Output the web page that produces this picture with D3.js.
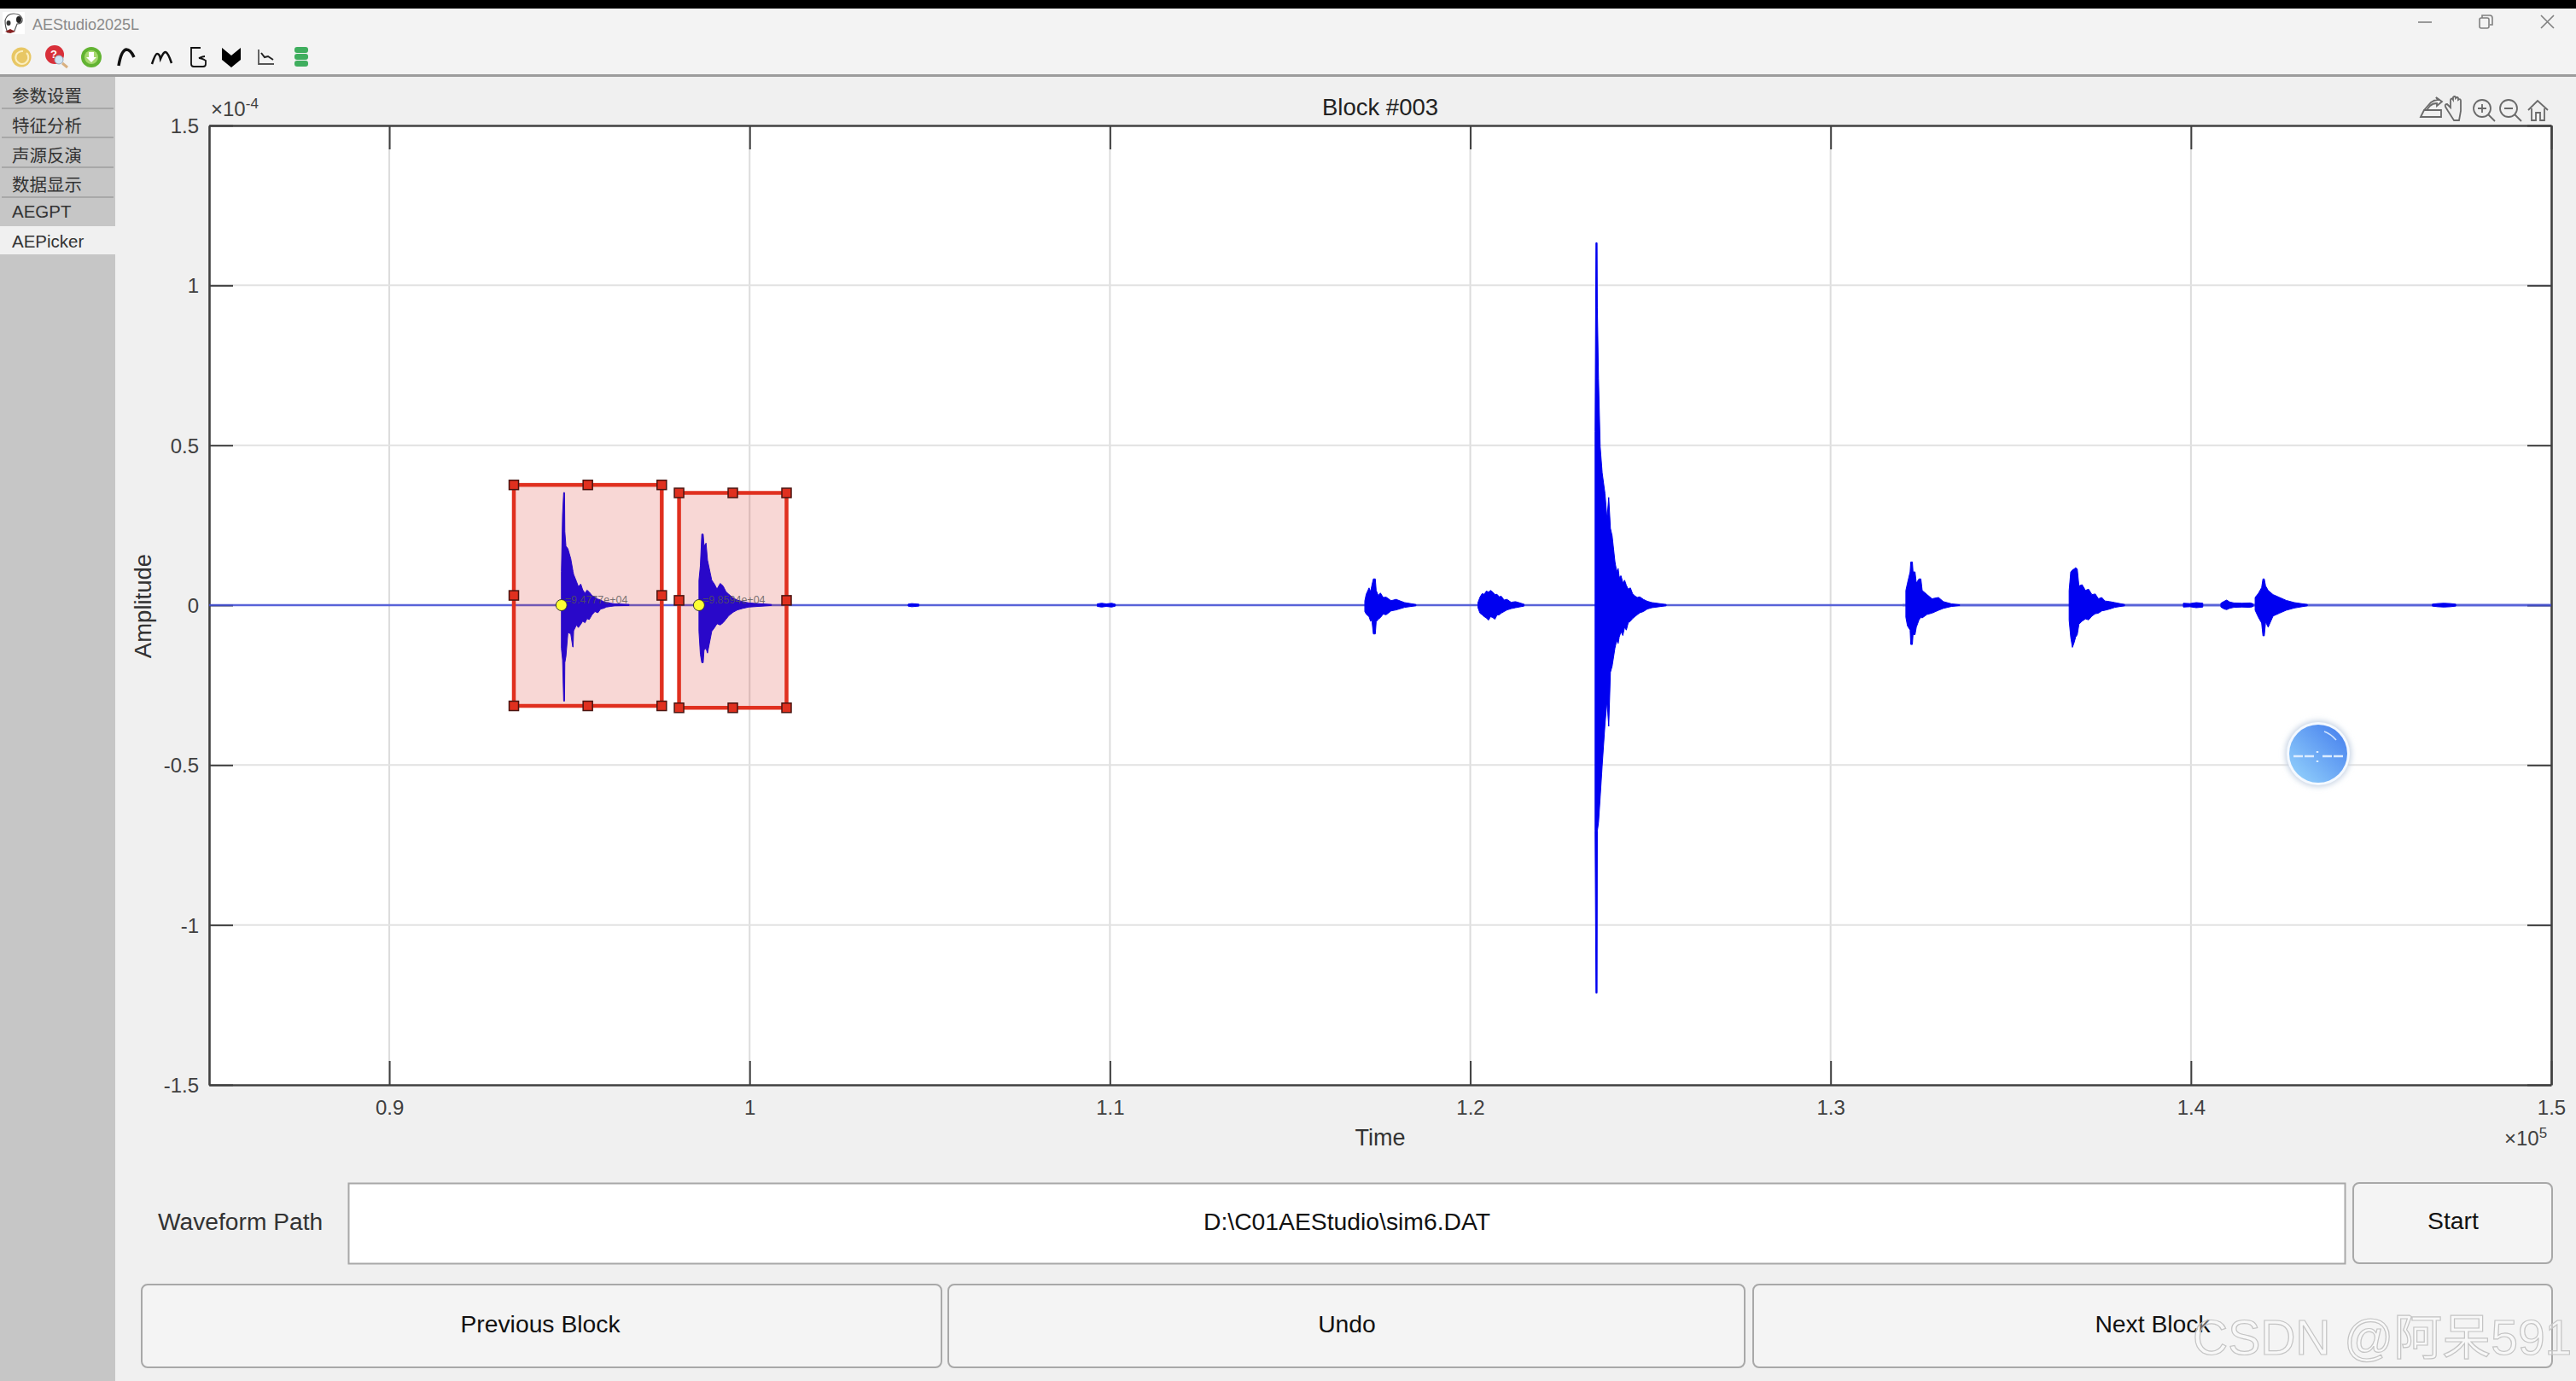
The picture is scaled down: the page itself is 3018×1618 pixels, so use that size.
<!doctype html>
<html>
<head>
  <title>AEPicker waveform</title>
  <script src="https://d3js.org/d3.v7.min.js"></script>
  <style>
    body { margin:0;background:#f0f0f0; }
    svg { display:block; }
    text { font-family:"Liberation Sans",Arial,sans-serif; }
  </style>
</head>
<body>
  <script>
    // axis values, time in samples and amplitude in units of 1e-4
    var xDomain = [85000, 150000];
    var yDomain = [-1.5, 1.5];
    var xTicks = [90000, 100000, 110000, 120000, 130000, 140000, 150000];
    var xTickLabels = ["0.9", "1", "1.1", "1.2", "1.3", "1.4", "1.5"];
    var yTicks = [-1.5, -1, -0.5, 0, 0.5, 1, 1.5];
    var yTickLabels = ["-1.5", "-1", "-0.5", "0", "0.5", "1", "1.5"];

    // background noise level along the record
    var baseTime = [85000, 102000, 117000, 124000, 132000, 140000, 150000];
    var baseAmp = [0.0035, 0.0035, 0.0035, 0.0035, 0.004, 0.004, 0.004];

    // start of every burst in the record
    var burstOnsets = [94777, 98594, 117073, 120214, 123464, 132089, 136620, 139790, 140831, 141782, 104400, 109650, 146700];

    // envelope of every burst: samples after onset, upper and lower amplitude
    var burst1Dt = [0, 32, 63, 87, 95, 126, 181, 260, 315, 323, 339, 418, 470, 537, 590, 655, 710, 773, 850, 931, 1010, 1089, 1170, 1247, 1360, 1483, 1878];
    var burst1Up = [0.105, 0.283, 0.352, 0.352, 0.23, 0.185, 0.176, 0.145, 0.11, 0.105, 0.096, 0.074, 0.058, 0.066, 0.048, 0.037, 0.047, 0.041, 0.03, 0.025, 0.019, 0.016, 0.011, 0.009, 0.006, 0.004, 0.002];
    var burst1Lo = [-0.135, -0.171, -0.3, -0.3, -0.18, -0.16, -0.085, -0.09, -0.131, -0.131, -0.08, -0.062, -0.07, -0.06, -0.05, -0.055, -0.042, -0.045, -0.03, -0.02, -0.024, -0.012, -0.01, -0.006, -0.004, -0.002, -0.001];

    var burst2Dt = [0, 39, 79, 118, 142, 197, 237, 355, 434, 500, 590, 670, 750, 828, 950, 1065, 1220, 1381, 2012];
    var burst2Up = [0.078, 0.123, 0.222, 0.222, 0.185, 0.194, 0.141, 0.078, 0.065, 0.05, 0.068, 0.06, 0.042, 0.034, 0.022, 0.016, 0.011, 0.007, 0.002];
    var burst2Lo = [-0.082, -0.153, -0.18, -0.18, -0.14, -0.135, -0.15, -0.082, -0.07, -0.058, -0.062, -0.055, -0.044, -0.033, -0.022, -0.015, -0.01, -0.006, -0.001];

    var burst3Dt = [0, 39, 118, 160, 197, 237, 292, 316, 375, 434, 510, 592, 730, 868, 1105, 1420];
    var burst3Up = [0.013, 0.034, 0.054, 0.042, 0.062, 0.082, 0.082, 0.046, 0.03, 0.038, 0.024, 0.025, 0.014, 0.018, 0.008, 0.002];
    var burst3Lo = [-0.02, -0.028, -0.036, -0.05, -0.047, -0.09, -0.09, -0.052, -0.044, -0.039, -0.028, -0.03, -0.018, -0.015, -0.007, -0.002];

    var burst4Dt = [0, 55, 115, 174, 233, 292, 350, 410, 470, 528, 590, 647, 725, 805, 920, 1041, 1278];
    var burst4Up = [0.008, 0.025, 0.036, 0.034, 0.044, 0.041, 0.046, 0.041, 0.033, 0.034, 0.026, 0.028, 0.016, 0.018, 0.009, 0.011, 0.003];
    var burst4Lo = [-0.008, -0.025, -0.03, -0.036, -0.04, -0.047, -0.036, -0.039, -0.044, -0.031, -0.03, -0.025, -0.02, -0.015, -0.011, -0.008, -0.003];

    var burst5Dt = [0, 24, 55, 63, 95, 142, 197, 276, 331, 379, 426, 473, 552, 600, 640, 670, 720, 770, 820, 868, 920, 980, 1040, 1105, 1170, 1240, 1341, 1450, 1578, 1973];
    var burst5Up = [0.544, 1.133, 1.133, 0.929, 0.708, 0.495, 0.414, 0.348, 0.27, 0.337, 0.24, 0.217, 0.136, 0.105, 0.115, 0.087, 0.092, 0.07, 0.078, 0.062, 0.05, 0.054, 0.036, 0.029, 0.024, 0.026, 0.018, 0.012, 0.008, 0.002];
    var burst5Lo = [-0.706, -1.213, -1.213, -0.706, -0.68, -0.6, -0.502, -0.371, -0.3, -0.379, -0.21, -0.191, -0.134, -0.11, -0.12, -0.1, -0.083, -0.095, -0.069, -0.078, -0.055, -0.05, -0.042, -0.036, -0.03, -0.024, -0.02, -0.012, -0.008, -0.002];

    var burst6Dt = [0, 45, 118, 136, 181, 199, 254, 290, 362, 417, 453, 589, 725, 906, 1042, 1269, 1495];
    var burst6Up = [0.046, 0.069, 0.104, 0.135, 0.135, 0.104, 0.104, 0.069, 0.082, 0.082, 0.046, 0.033, 0.02, 0.024, 0.011, 0.004, 0.001];
    var burst6Lo = [-0.038, -0.065, -0.078, -0.123, -0.123, -0.092, -0.092, -0.069, -0.047, -0.038, -0.04, -0.029, -0.025, -0.016, -0.01, -0.004, -0.001];

    var burst7Dt = [0, 45, 91, 136, 181, 226, 272, 360, 453, 540, 634, 725, 815, 905, 996, 1130, 1268, 1540];
    var burst7Up = [0.046, 0.104, 0.11, 0.113, 0.117, 0.113, 0.06, 0.064, 0.046, 0.05, 0.033, 0.035, 0.02, 0.024, 0.013, 0.011, 0.008, 0.002];
    var burst7Lo = [-0.047, -0.101, -0.132, -0.118, -0.1, -0.092, -0.06, -0.05, -0.043, -0.046, -0.034, -0.027, -0.025, -0.018, -0.016, -0.012, -0.007, -0.002];

    var burst8Dt = [0, 180, 360, 540];
    var burst8Up = [0.006, 0.005, 0.008, 0.006];
    var burst8Lo = [-0.006, -0.005, -0.008, -0.006];

    var burst9Dt = [0, 90, 163, 240, 360, 590, 815, 900];
    var burst9Up = [0.006, 0.012, 0.016, 0.01, 0.007, 0.006, 0.007, 0.004];
    var burst9Lo = [-0.006, -0.012, -0.014, -0.01, -0.007, -0.006, -0.007, -0.004];

    var burst10Dt = [0, 91, 181, 217, 254, 290, 362, 498, 679, 860, 1087, 1449];
    var burst10Up = [0.024, 0.037, 0.055, 0.082, 0.082, 0.06, 0.046, 0.033, 0.024, 0.015, 0.008, 0.002];
    var burst10Lo = [-0.016, -0.038, -0.056, -0.096, -0.096, -0.052, -0.069, -0.034, -0.025, -0.016, -0.009, -0.002];

    var burst11Dt = [0, 100, 300];
    var burst11Up = [0.003, 0.005, 0.003];
    var burst11Lo = [-0.003, -0.005, -0.003];

    var burst12Dt = [0, 120, 250, 400, 500];
    var burst12Up = [0.004, 0.006, 0.004, 0.006, 0.003];
    var burst12Lo = [-0.004, -0.006, -0.004, -0.006, -0.003];

    var burst13Dt = [0, 150, 320, 500, 650];
    var burst13Up = [0.003, 0.005, 0.006, 0.005, 0.003];
    var burst13Lo = [-0.003, -0.005, -0.006, -0.005, -0.003];

    // picked regions
    var pickStart = [93457, 98042];
    var pickEnd = [97562, 101025];
    var pickTop = [0.376, 0.351];
    var pickBottom = [-0.315, -0.321];
    var pickOnset = [94777, 98594];
    var pickLabels = ["=9.4777e+04", "=9.8594e+04"];

    // side tabs
    var tabLabels = ["参数设置", "特征分析", "声源反演", "数据显示", "AEGPT", "AEPicker"];

    var width = 3018;
    var height = 1618;

    var svg = d3.select("body").append("svg")
    .attr("width", width)
    .attr("height", height)

    svg.append("rect").attr("width", width).attr("height", height).attr("fill", "#f0f0f0");

    // scales
    var xScale = d3.scaleLinear().domain(xDomain).range([245, 2989]);
    var yScale = d3.scaleLinear().domain(yDomain).range([1271, 147]);

    var plotLeft = xScale(xDomain[0]), plotRight = xScale(xDomain[1]);
    var plotTop = yScale(yDomain[1]), plotBottom = yScale(yDomain[0]);

    var defs = svg.append("defs");
    defs.append("clipPath").attr("id", "plotClip").append("rect")
    .attr("x", plotLeft).attr("y", plotTop)
    .attr("width", plotRight - plotLeft)
    .attr("height", plotBottom - plotTop);
    var ball = defs.append("linearGradient").attr("id", "ball")
    .attr("x1", "90%").attr("y1", "10%").attr("x2", "10%").attr("y2", "90%");
    ball.append("stop").attr("offset", "0%").attr("stop-color", "#4a84ee");
    ball.append("stop").attr("offset", "100%").attr("stop-color", "#8fcdfb");
    var halo = defs.append("filter").attr("id", "halo")
    .attr("x", "-30%").attr("y", "-30%").attr("width", "160%").attr("height", "160%");
    halo.append("feGaussianBlur").attr("stdDeviation", 3);

    // window frame
    svg.append("rect").attr("width", width).attr("height", 10).attr("fill", "#000");
    svg.append("rect").attr("y", 10).attr("width", width).attr("height", 78).attr("fill", "#f3f3f3");
    svg.append("rect").attr("y", 87).attr("width", width).attr("height", 3).attr("fill", "#9c9c9c");

    svg.append("rect").attr("x", 3).attr("y", 14).attr("width", 26).attr("height", 26).attr("fill", "#fff");
    svg.append("path").attr("d", "M6 24q2 -8 10 -8q8 0 10 6q1 6 -6 6l-3 8l-8 2q-3 -6 -3 -14z").attr("fill", "#fff").attr("stroke", "#555").attr("stroke-width", 1.2);
    svg.append("ellipse").attr("cx", 22).attr("cy", 23).attr("rx", 3).attr("ry", 4).attr("fill", "#222");
    svg.append("ellipse").attr("cx", 10).attr("cy", 27).attr("rx", 2.5).attr("ry", 3).attr("fill", "#333");
    svg.append("path").attr("d", "M6 37l6 -3l6 3l-6 2z").attr("fill", "#822");
    svg.append("text").attr("x", 38).attr("y", 35).attr("font-size", 18).attr("fill", "#8a8a8a").text("AEStudio2025L");

    // window buttons
    var winIcons = svg.append("g").attr("fill", "none").attr("stroke", "#808080").attr("stroke-width", 1.6);
    winIcons.append("path").attr("d", "M2833 26h16");
    winIcons.append("rect").attr("x", 2905).attr("y", 21).attr("width", 11).attr("height", 12).attr("rx", 2);
    winIcons.append("path").attr("d", "M2908 21v-3h9q3 0 3 3v8h-3");
    winIcons.append("path").attr("d", "M2977 18l15 15M2992 18l-15 15");

    // toolbar icons
    var tools = svg.append("g");
    tools.append("circle").attr("cx", 25).attr("cy", 67).attr("r", 11.5).attr("fill", "#e8c764");
    tools.append("path").attr("d", "M31 62a7.5 7.5 0 1 1 -4 -2").attr("fill", "none").attr("stroke", "#fbeec0").attr("stroke-width", 2);
    tools.append("circle").attr("cx", 64).attr("cy", 64).attr("r", 11).attr("fill", "#d8303a");
    tools.append("circle").attr("cx", 69).attr("cy", 70).attr("r", 5).attr("fill", "#cfe4f4").attr("stroke", "#99aabb").attr("stroke-width", 1);
    tools.append("path").attr("d", "M73 74l6 5").attr("stroke", "#d8b080").attr("stroke-width", 3);
    tools.append("text").attr("x", 63).attr("y", 68).attr("text-anchor", "middle").attr("font-size", 13).attr("font-weight", "bold").attr("fill", "#fff").text("?");
    tools.append("circle").attr("cx", 107).attr("cy", 67).attr("r", 12).attr("fill", "#62b332");
    tools.append("circle").attr("cx", 107).attr("cy", 67).attr("r", 8).attr("fill", "#a6d86e");
    tools.append("path").attr("d", "M104 61h6v6h3l-6 6l-6 -6h3z").attr("fill", "#fff");
    var curves = tools.append("g").attr("fill", "none").attr("stroke", "#111").attr("stroke-width", 3);
    curves.append("path").attr("d", "M139 77q3 -18 9 -19q5 0 9 9").attr("stroke-width", 3.5);
    curves.append("path").attr("d", "M178 75q4 -12 6 -12q3 0 4 6q4 -9 6 -8q3 1 7 13").attr("stroke-width", 2.5);
    curves.append("path").attr("d", "M235 56h-11v19q0 3 3 3h11q3 0 3 -3v-4q-5 -3 -8 -3q5 -2 7 -2").attr("stroke-width", 1.8);
    tools.append("path").attr("d", "M260 56l11 9l11 -9v14l-11 9l-11 -9z").attr("fill", "#000");
    curves.append("path").attr("d", "M303 58v17h18").attr("stroke", "#555").attr("stroke-width", 1.8);
    curves.append("path").attr("d", "M306 62l4 5l4 -1l6 4").attr("stroke", "#222").attr("stroke-width", 2);
    [58, 66, 74].forEach(function(cy){
      tools.append("rect").attr("x", 345).attr("y", cy - 3).attr("width", 16).attr("height", 7).attr("rx", 3).attr("fill", "#3fae5e");
    });

    // side panel with the tabs
    svg.append("rect").attr("y", 90).attr("width", 135).attr("height", height - 90).attr("fill", "#c6c6c6");
    svg.append("rect").attr("y", 265).attr("width", 135).attr("height", 33).attr("fill", "#f0f0f0");
    [126, 160, 195, 230].forEach(function(y){
      svg.append("rect").attr("x", 2).attr("y", y).attr("width", 131).attr("height", 2).attr("fill", "#a8a8a8");
    });
    var tabBase = [120, 155, 190, 224, 255, 290];
    svg.append("g").selectAll("text").data(tabLabels).enter().append("text")
    .attr("x", 14)
    .attr("y", function(d, i){ return tabBase[i]; })
    .attr("font-size", 20.5)
    .attr("fill", "#333")
    .style("font-family", function(d, i){ return i < 4 ? '"Noto Sans CJK SC"' : '"Liberation Sans"'; })
    .text(function(d){ return d; });

    svg.append("rect")
    .attr("x", plotLeft).attr("y", plotTop)
    .attr("width", plotRight - plotLeft).attr("height", plotBottom - plotTop)
    .attr("fill", "#fff");

    // grid
    svg.append("g").selectAll("line").data(xTicks.slice(0, -1)).enter().append("line")
    .attr("x1", function(d){ return xScale(d); }).attr("x2", function(d){ return xScale(d); })
    .attr("y1", plotTop).attr("y2", plotBottom)
    .attr("stroke", "#dcdcdc").attr("stroke-width", 2);
    svg.append("g").selectAll("line").data(yTicks.slice(1, -1)).enter().append("line")
    .attr("x1", plotLeft).attr("x2", plotRight)
    .attr("y1", function(d){ return yScale(d); }).attr("y2", function(d){ return yScale(d); })
    .attr("stroke", "#e2e2e2").attr("stroke-width", 2);

    // axes, ticks point inward like the MATLAB box
    var bottomAxis = d3.axisBottom(xScale)
    .tickValues(xTicks)
    .tickSizeInner(-28).tickSizeOuter(0).tickPadding(18)
    .tickFormat(function(d, i){ return xTickLabels[i]; });
    var leftAxis = d3.axisLeft(yScale)
    .tickValues(yTicks)
    .tickSizeInner(-28).tickSizeOuter(0).tickPadding(12)
    .tickFormat(function(d, i){ return yTickLabels[i]; });
    var topAxis = d3.axisTop(xScale).tickValues(xTicks).tickSizeInner(-28).tickSizeOuter(0).tickFormat("");
    var rightAxis = d3.axisRight(yScale).tickValues(yTicks).tickSizeInner(-28).tickSizeOuter(0).tickFormat("");

    function styleAxis(g){
      g.selectAll(".domain").attr("stroke", "#404040").attr("stroke-width", 2.6);
      g.selectAll(".tick line").attr("stroke", "#404040").attr("stroke-width", 2);
      g.selectAll(".tick text").attr("fill", "#404040").attr("font-size", 24)
      .style("font-family", '"Liberation Sans"');
    }

    svg.append("g").attr("transform", "translate(0," + plotBottom + ")").call(bottomAxis).call(styleAxis);
    svg.append("g").attr("transform", "translate(" + plotLeft + ",0)").call(leftAxis).call(styleAxis)
    .selectAll(".tick text").attr("dy", "0.36em");
    svg.append("g").attr("transform", "translate(0," + plotTop + ")").call(topAxis).call(styleAxis);
    svg.append("g").attr("transform", "translate(" + plotRight + ",0)").call(rightAxis).call(styleAxis);

    // waveform
    var wave = svg.append("g").attr("clip-path", "url(#plotClip)");

    var baseArea = d3.area()
    .curve(d3.curveStepAfter)
    .x(function(d){ return xScale(d); })
    .y0(function(d, i){ return yScale(-baseAmp[i]); })
    .y1(function(d, i){ return yScale(baseAmp[i]); });

    wave.append("path").attr("d", baseArea(baseTime))
    .attr("fill", "#3f4cd6").attr("fill-opacity", 0.85);

    var burstArea = d3.area()
    .x(function(d){ return xScale(d.t); })
    .y0(function(d){ return yScale(d.lo); })
    .y1(function(d){ return yScale(d.up); });

    var burstDt = [burst1Dt, burst2Dt, burst3Dt, burst4Dt, burst5Dt, burst6Dt, burst7Dt, burst8Dt, burst9Dt, burst10Dt, burst11Dt, burst12Dt, burst13Dt];
    var burstUp = [burst1Up, burst2Up, burst3Up, burst4Up, burst5Up, burst6Up, burst7Up, burst8Up, burst9Up, burst10Up, burst11Up, burst12Up, burst13Up];
    var burstLo = [burst1Lo, burst2Lo, burst3Lo, burst4Lo, burst5Lo, burst6Lo, burst7Lo, burst8Lo, burst9Lo, burst10Lo, burst11Lo, burst12Lo, burst13Lo];

    burstOnsets.forEach(function(onset, b){
      var points = burstDt[b].map(function(dt, i){
        return {t:onset + dt, up:burstUp[b][i], lo:burstLo[b][i]};
      });
      wave.append("path").attr("d", burstArea(points))
      .attr("fill", "#0000f0").attr("stroke", "#0000f0").attr("stroke-width", 1);
    });

    // picked regions with their handles
    var picks = svg.append("g");
    pickStart.forEach(function(start, i){
      var x0 = xScale(start), x1 = xScale(pickEnd[i]);
      var y0 = yScale(pickTop[i]), y1 = yScale(pickBottom[i]);
      picks.append("rect")
      .attr("x", x0).attr("y", y0).attr("width", x1 - x0).attr("height", y1 - y0)
      .attr("fill", "#d92c20").attr("fill-opacity", 0.19)
      .attr("stroke", "#e0301f").attr("stroke-width", 4.5);
      [[x0, y0], [(x0 + x1) / 2, y0], [x1, y0], [x0, (y0 + y1) / 2], [x1, (y0 + y1) / 2], [x0, y1], [(x0 + x1) / 2, y1], [x1, y1]].forEach(function(p){
        picks.append("rect")
        .attr("x", p[0] - 5.5).attr("y", p[1] - 5.5).attr("width", 11).attr("height", 11)
        .attr("fill", "#e0301f").attr("stroke", "#4a1410").attr("stroke-width", 1.5);
      });
      picks.append("text")
      .attr("x", xScale(pickOnset[i]) + 4).attr("y", yScale(0) - 2)
      .attr("font-size", 12.5).attr("fill", "#555").attr("fill-opacity", 0.8)
      .text(pickLabels[i]);
      picks.append("circle")
      .attr("cx", xScale(pickOnset[i])).attr("cy", yScale(0)).attr("r", 6.5)
      .attr("fill", "#ffff33").attr("stroke", "#333").attr("stroke-width", 1);
    });

    // titles and exponents
    svg.append("text").attr("x", 1617).attr("y", 135).attr("text-anchor", "middle").attr("font-size", 27.5).attr("fill", "#222").text("Block #003");
    svg.append("text").attr("x", 1617).attr("y", 1342).attr("text-anchor", "middle").attr("font-size", 27).attr("fill", "#333").text("Time");
    svg.append("text").attr("transform", "translate(177,710) rotate(-90)").attr("text-anchor", "middle").attr("font-size", 27.5).attr("fill", "#333").text("Amplitude");

    var yExp = svg.append("text").attr("x", 247).attr("y", 136).attr("font-size", 24).attr("fill", "#404040");
    yExp.append("tspan").text("×10");
    yExp.append("tspan").attr("dy", -9).attr("font-size", 17).text("-4");
    var xExp = svg.append("text").attr("x", 2934).attr("y", 1342).attr("font-size", 24).attr("fill", "#404040");
    xExp.append("tspan").text("×10");
    xExp.append("tspan").attr("dy", -9).attr("font-size", 17).text("5");

    // axes toolbar
    var axTools = svg.append("g").attr("fill", "none").attr("stroke", "#6a6a6a").attr("stroke-width", 1.8);
    axTools.append("path").attr("d", "M2836 137l4 -8l20 0v8zM2840 129l8 -9q4 -3 8 -3l-2 -3l7 5l-6 5l0 -3q-5 0 -8 3l-4 5");
    axTools.append("path").attr("d", "M2875 141l-7 -11l-3 -5q-1 -3 2 -3l4 4v-9q1 -3 3 0v-3q2 -2 3 0v1q2 -2 3 0v2q3 -2 3 1v12l-2 11z");
    axTools.append("circle").attr("cx", 2908).attr("cy", 127).attr("r", 10);
    axTools.append("path").attr("d", "M2915 134l8 8M2903 127h10M2908 122v10");
    axTools.append("circle").attr("cx", 2939).attr("cy", 127).attr("r", 10);
    axTools.append("path").attr("d", "M2946 134l8 8M2934 127h10");
    axTools.append("path").attr("d", "M2962 129l11 -11l12 11M2966 127v14h5v-9h5v9h5v-14");

    // controls under the axes
    svg.append("text").attr("x", 185).attr("y", 1441).attr("font-size", 28.2).attr("fill", "#333").text("Waveform Path");
    svg.append("rect").attr("x", 408.5).attr("y", 1386.5).attr("width", 2339).attr("height", 94)
    .attr("fill", "#fff").attr("stroke", "#a8a8a8").attr("stroke-width", 2);
    svg.append("text").attr("x", 1578).attr("y", 1441).attr("text-anchor", "middle").attr("font-size", 28.3).attr("fill", "#111").text("D:\\C01AEStudio\\sim6.DAT");

    var buttonLabels = ["Start", "Previous Block", "Undo", "Next Block"];
    var buttonLeft = [2757, 166, 1111, 2054];
    var buttonRight = [2990, 1103, 2044, 2990];
    var buttonTop = [1386, 1505, 1505, 1505];
    var buttonBottom = [1480, 1602, 1602, 1602];
    var buttonText = [2874, 633, 1578, 2522];
    buttonLabels.forEach(function(label, i){
      svg.append("rect")
      .attr("x", buttonLeft[i]).attr("y", buttonTop[i])
      .attr("width", buttonRight[i] - buttonLeft[i]).attr("height", buttonBottom[i] - buttonTop[i])
      .attr("rx", 7)
      .attr("fill", "#f4f4f4").attr("stroke", "#a8a8a8").attr("stroke-width", 2);
      svg.append("text")
      .attr("x", buttonText[i]).attr("y", (buttonTop[i] + buttonBottom[i]) / 2 + 7)
      .attr("text-anchor", "middle").attr("font-size", 28.3).attr("fill", "#111").text(label);
    });

    // watermark
    svg.append("text").attr("x", 2569).attr("y", 1587).attr("font-size", 57)
    .attr("fill", "#ffffff").attr("fill-opacity", 0.35).attr("stroke", "#c4c4c4").attr("stroke-width", 1.2)
    .style("font-family", '"Liberation Sans","Noto Sans CJK SC"')
    .text("CSDN @阿呆591");

    // floating blue ball
    var floatBall = svg.append("g").attr("transform", "translate(2716,883)");
    floatBall.append("circle").attr("r", 39).attr("fill", "#c8d4e4").attr("filter", "url(#halo)");
    floatBall.append("circle").attr("r", 37).attr("fill", "#f4f9ff");
    floatBall.append("circle").attr("r", 34).attr("fill", "url(#ball)");
    floatBall.append("path").attr("d", "M-29 3h11M-16 3h11M5 3h11M18 3h11M-1 -3v2M-1 8v2")
    .attr("stroke", "#dcecff").attr("stroke-width", 2.5);
    floatBall.append("path").attr("d", "M7 -26q8 3 14 10").attr("fill", "none").attr("stroke", "#cfe4ff").attr("stroke-width", 1.6);
  </script>
</body>
</html>
